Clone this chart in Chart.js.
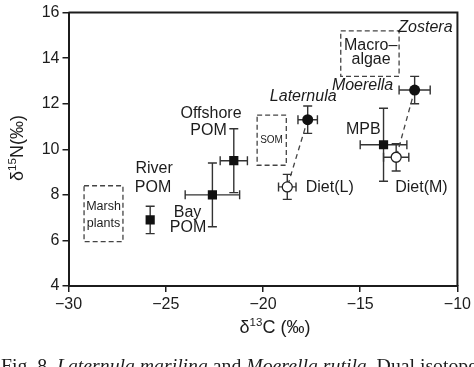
<!DOCTYPE html>
<html>
<head>
<meta charset="utf-8">
<script src="https://cdn.jsdelivr.net/npm/chart.js@4.4.1/dist/chart.umd.min.js"></script>
<style>
  html, body { margin: 0; padding: 0; background: #fff; }
  #wrap { width: 474px; height: 367px; }
</style>
</head>
<body>
<div id="wrap"><canvas id="isoChart" width="474" height="367"></canvas></div>
<script>
// Tick labels
const xTicks = [-30, -25, -20, -15, -10];
const yTicks = [4, 6, 8, 10, 12, 14, 16];

// Food sources (filled squares)
const sourceNames = ['River POM', 'Bay POM', 'Offshore POM', 'MPB'];
const sourceC = [-25.8, -22.6, -21.5, -13.8];
const sourceN = [6.9, 8.0, 9.5, 10.2];
const sourceCErr = [0, 1.4, 0.7, 1.2];
const sourceNErr = [0.6, 1.4, 1.4, 1.6];

// Bivalves (filled circles)
const consumerNames = ['Laternula', 'Moerella'];
const consumerC = [-17.7, -12.2];
const consumerN = [11.3, 12.6];
const consumerCErr = [0.5, 0.8];
const consumerNErr = [0.6, 0.6];

// Estimated diets (open circles)
const dietNames = ['Diet(L)', 'Diet(M)'];
const dietC = [-18.75, -13.15];
const dietN = [8.35, 9.65];
const dietCErr = [0.45, 0.65];
const dietNErr = [0.55, 0.6];

// Sources shown only as ranges (dashed boxes)
const rangeNames = ['Marsh plants', 'SOM', 'Macroalgae'];
const rangeC = [[-29.2, -27.2], [-20.3, -18.8], [-16.0, -13.0]];
const rangeN = [[5.95, 8.4], [9.3, 11.5], [13.2, 15.2]];

const INK = '#1c1c1c';
const SANS = '"Liberation Sans", Arial, sans-serif';

function toPoints(cs, ns, cErr, nErr) {
    return cs.map((c, i) => ({ x: c, y: ns[i], xErr: cErr[i], yErr: nErr[i] }));
}

const sourcePts = toPoints(sourceC, sourceN, sourceCErr, sourceNErr);
const consumerPts = toPoints(consumerC, consumerN, consumerCErr, consumerNErr);
const dietPts = toPoints(dietC, dietN, dietCErr, dietNErr);

// Text labels placed in data units: [text, x, y, align, style]
const labels = [
    ['River', -25.6, 9.17, 'center', 'n'],
    ['POM', -25.65, 8.34, 'center', 'n'],
    ['Bay', -23.88, 7.24, 'center', 'n'],
    ['POM', -23.85, 6.58, 'center', 'n'],
    ['Offshore', -22.67, 11.56, 'center', 'n'],
    ['POM', -22.8, 10.83, 'center', 'n'],
    ['MPB', -13.95, 10.85, 'right', 'n'],
    ['Diet(L)', -17.8, 8.34, 'left', 'n'],
    ['Diet(M)', -13.2, 8.34, 'left', 'n'],
    ['Laternula', -17.93, 12.32, 'center', 'i'],
    ['Moerella', -13.3, 12.81, 'right', 'i'],
    ['Zostera', -10.25, 15.36, 'right', 'i'],
    ['Macro\u2013', -14.46, 14.54, 'center', 'n'],
    ['algae', -14.44, 13.93, 'center', 'n'],
    ['Marsh', -28.2, 7.48, 'center', 's'],
    ['plants', -28.2, 6.74, 'center', 's'],
    ['SOM', -19.56, 10.4, 'center', 'xs']
];

const isoPlugin = {
    id: 'iso',
    beforeDatasetsDraw(chart) {
        const { ctx, scales: { x, y } } = chart;
        ctx.save();
        // dashed range boxes
        ctx.strokeStyle = '#444';
        ctx.lineWidth = 1.3;
        ctx.setLineDash([5, 3]);
        rangeC.forEach((rc, i) => {
            const x0 = x.getPixelForValue(rc[0]), x1 = x.getPixelForValue(rc[1]);
            const y0 = y.getPixelForValue(rangeN[i][1]), y1 = y.getPixelForValue(rangeN[i][0]);
            ctx.strokeRect(x0, y0, x1 - x0, y1 - y0);
        });
        ctx.setLineDash([]);
        // error bars
        ctx.strokeStyle = '#333';
        ctx.lineWidth = 1.4;
        const cap = 4.5;
        chart.data.datasets.forEach(ds => {
            if (!ds.errorBars) return;
            ds.data.forEach(p => {
                const px = x.getPixelForValue(p.x), py = y.getPixelForValue(p.y);
                ctx.beginPath();
                if (p.xErr) {
                    const l = x.getPixelForValue(p.x - p.xErr), r = x.getPixelForValue(p.x + p.xErr);
                    ctx.moveTo(l, py); ctx.lineTo(r, py);
                    ctx.moveTo(l, py - cap); ctx.lineTo(l, py + cap);
                    ctx.moveTo(r, py - cap); ctx.lineTo(r, py + cap);
                }
                if (p.yErr) {
                    const t = y.getPixelForValue(p.y + p.yErr), b = y.getPixelForValue(p.y - p.yErr);
                    ctx.moveTo(px, t); ctx.lineTo(px, b);
                    ctx.moveTo(px - cap, t); ctx.lineTo(px + cap, t);
                    ctx.moveTo(px - cap, b); ctx.lineTo(px + cap, b);
                }
                ctx.stroke();
            });
        });
        ctx.restore();
    },
    afterDraw(chart) {
        const { ctx, chartArea: a, scales: { x, y } } = chart;
        ctx.save();
        // top and right frame
        ctx.strokeStyle = INK;
        ctx.lineWidth = 2;
        ctx.beginPath();
        ctx.moveTo(a.left, a.top); ctx.lineTo(a.right, a.top); ctx.lineTo(a.right, a.bottom);
        ctx.stroke();

        // labels
        ctx.fillStyle = INK;
        ctx.textBaseline = 'middle';
        labels.forEach(([t, vx, vy, align, st]) => {
            let font = '16px ' + SANS;
            if (st === 'i') font = 'italic 16px ' + SANS;
            if (st === 's') font = '12.5px ' + SANS;
            if (st === 'xs') font = '10px ' + SANS;
            ctx.font = font;
            ctx.textAlign = align;
            ctx.fillText(t, x.getPixelForValue(vx), y.getPixelForValue(vy));
        });

        // axis titles with superscripts
        function superTitle(parts, cx, cy) {
            ctx.textAlign = 'left';
            ctx.textBaseline = 'alphabetic';
            let w = 0;
            parts.forEach(p => { ctx.font = (p[1] ? '11.5px ' : '18px ') + SANS; w += ctx.measureText(p[0]).width; });
            let px = cx - w / 2;
            parts.forEach(p => {
                ctx.font = (p[1] ? '11.5px ' : '18px ') + SANS;
                ctx.fillText(p[0], px, cy + (p[1] ? -7 : 0));
                px += ctx.measureText(p[0]).width;
            });
        }
        superTitle([['\u03b4', 0], ['13', 1], ['C (\u2030)', 0]], 275, 333);
        ctx.save();
        ctx.translate(23, 148);
        ctx.rotate(-Math.PI / 2);
        superTitle([['\u03b4', 0], ['15', 1], ['N(\u2030)', 0]], 0, 0);
        ctx.restore();

        // figure caption (cut off by the page edge), sized to span the page width
        const parts = [['Fig. 8. ', ''], ['Laternula marilina', 'italic '], [' and ', ''], ['Moerella rutila', 'italic '], ['. Dual isotope', '']];
        const serif = 'px "Liberation Serif", "Times New Roman", serif';
        let total = 0;
        parts.forEach(p => { ctx.font = p[1] + '15' + serif; total += ctx.measureText(p[0]).width; });
        const size = 15 * 476 / total;
        let cx = 1;
        ctx.textAlign = 'left';
        ctx.textBaseline = 'alphabetic';
        parts.forEach(p => {
            ctx.font = p[1] + size.toFixed(2) + serif;
            ctx.fillText(p[0], cx, 372);
            cx += ctx.measureText(p[0]).width;
        });
        ctx.restore();
    }
};

const tickFont = { family: SANS, size: 16 };

const ctx = document.getElementById('isoChart').getContext('2d');
const isoChart = new Chart(ctx, {
    type: 'scatter',
    data: {
        datasets: [{
            label: 'Laternula to diet',
            data: [consumerPts[0], dietPts[0]],
            showLine: true,
            borderColor: '#444',
            borderWidth: 1.3,
            borderDash: [5, 4],
            pointRadius: 0,
            order: 5
        }, {
            label: 'Moerella to diet',
            data: [consumerPts[1], dietPts[1]],
            showLine: true,
            borderColor: '#444',
            borderWidth: 1.3,
            borderDash: [5, 4],
            pointRadius: 0,
            order: 5
        }, {
            label: 'Sources',
            data: sourcePts,
            errorBars: true,
            pointStyle: 'rect',
            pointRadius: 6.5,
            backgroundColor: '#111',
            borderColor: '#111',
            borderWidth: 0,
            order: 1
        }, {
            label: 'Bivalves',
            data: consumerPts,
            errorBars: true,
            pointStyle: 'circle',
            pointRadius: 5.5,
            backgroundColor: '#111',
            borderColor: '#111',
            borderWidth: 0,
            order: 1
        }, {
            label: 'Diets',
            data: dietPts,
            errorBars: true,
            pointStyle: 'circle',
            pointRadius: 5,
            backgroundColor: '#fff',
            borderColor: '#222',
            borderWidth: 1.3,
            order: 0
        }]
    },
    options: {
        responsive: false,
        animation: false,
        layout: { padding: { top: 7, right: 8, left: 0, bottom: 0 } },
        plugins: {
            legend: { display: false },
            tooltip: { enabled: false }
        },
        scales: {
            x: {
                type: 'linear',
                min: -30,
                max: -10,
                afterBuildTicks: s => { s.ticks = xTicks.map(v => ({ value: v })); },
                afterFit: s => { s.height = 81; },
                grid: { drawOnChartArea: false, tickLength: 6, color: INK, lineWidth: 1.5 },
                border: { color: INK, width: 2 },
                ticks: {
                    font: tickFont,
                    color: INK,
                    padding: 3,
                    maxRotation: 0,
                    callback: v => String(v).replace('-', '\u2212')
                }
            },
            y: {
                type: 'linear',
                min: 4,
                max: 16,
                afterBuildTicks: s => { s.ticks = yTicks.map(v => ({ value: v })); },
                afterFit: s => { s.width = 68.5; },
                grid: { drawOnChartArea: false, tickLength: 6, color: INK, lineWidth: 1.5 },
                border: { color: INK, width: 2 },
                ticks: { font: tickFont, color: INK, padding: 3 }
            }
        }
    },
    plugins: [isoPlugin]
});
</script>
</body>
</html>
